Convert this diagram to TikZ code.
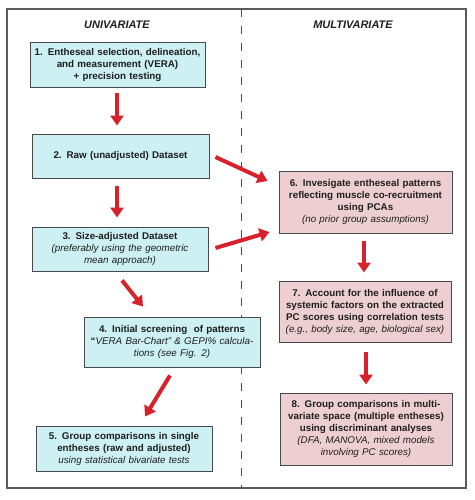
\documentclass[tikz,border=0pt]{standalone}
\usepackage{fontspec}
\setmainfont{Liberation Sans}
\usetikzlibrary{arrows.meta}
\definecolor{boxcyan}{HTML}{CCF0F3}
\definecolor{boxpink}{HTML}{EDCFD2}
\definecolor{arrred}{HTML}{D7222C}
\definecolor{edgegray}{HTML}{4A4A4A}
\definecolor{txt}{HTML}{1E1E1E}
\newcommand{\itl}{\mdseries\itshape}
\begin{document}
\begin{tikzpicture}[x=1pt,y=-1pt,
  box/.style={draw=edgegray, line width=0.9pt, align=center, inner sep=0pt,
    text=txt, font=\fontsize{9.8}{12}\selectfont\bfseries},
  cbox/.style={box, fill=boxcyan},
  pbox/.style={box, fill=boxpink},
  arr/.style={draw=arrred, line width=4pt, -{Triangle[width=13pt,length=10pt]}},
  head/.style={font=\fontsize{11}{13}\selectfont\bfseries\itshape, text=txt}]
\useasboundingbox (0,0) rectangle (474,500);
\draw[edgegray!90, line width=1.1pt] (7,9) rectangle (466,488);
\draw[edgegray, line width=1pt, dash pattern=on 8pt off 9pt] (241,9) -- (241,488);
\node[head] (hu) at (117,25) {UNIVARIATE};
\node[head] (hm) at (353,25) {MULTIVARIATE};
\node[cbox, minimum width=175, minimum height=45, text width=172] (b1) at (117.5,64.5)
  {1. Entheseal selection, delineation,\\ and measurement (VERA)\\ + precision testing};
\node[cbox, minimum width=177, minimum height=44, text width=174] (b2) at (120.5,156)
  {2. Raw (unadjusted) Dataset};
\node[cbox, minimum width=176, minimum height=44, text width=173] (b3) at (120,249)
  {3. Size-adjusted Dataset\\ \itl (preferably using the geometric\\ \itl mean approach)};
\node[cbox, minimum width=176, minimum height=50, text width=173] (b4) at (172,342)
  {4. Initial screening\ \ of patterns\\ ``{\itl VERA Bar-Chart'' \& GEPI\% calcula-}\\ \itl tions (see Fig. 2)};
\node[cbox, minimum width=176, minimum height=45, text width=173] (b5) at (124,448.5)
  {5. Group comparisons in single\\ entheses (raw and adjusted)\\ \itl using statistical bivariate tests};
\node[pbox, minimum width=173, minimum height=62, text width=170] (b6) at (365.5,202)
  {6. Invesigate entheseal patterns\\ reflecting muscle co-recruitment\\ using PCAs\\ \itl (no prior group assumptions)};
\node[pbox, minimum width=172, minimum height=61, text width=170] (b7) at (365,311.5)
  {7. Account for the influence of\\ systemic factors on the extracted\\ PC scores using correlation tests\\ \itl (e.g., body size, age, biological sex)};
\node[pbox, minimum width=172, minimum height=72, text width=170] (b8) at (366,429)
  {8. Group comparisons in multi-\\ variate space (multiple entheses)\\ using discriminant analyses\\ \itl (DFA, MANOVA, mixed models\\ \itl involving PC scores)};
\draw[arr] ([xshift=-0.5,yshift=-6]b1.south) -- ([xshift=-3.5,yshift=8]b2.north);
\draw[arr] ([xshift=-3.5,yshift=-8]b2.south) -- ([xshift=-3,yshift=9]b3.north);
\draw[arr] ([xshift=6,yshift=-1]b2.east) -- ([xshift=-11,yshift=21]b6.west);
\draw[arr] ([xshift=7,yshift=1]b3.east) -- ([xshift=-9,yshift=-30]b6.west);
\draw[arr] ([xshift=2,yshift=-9]b3.south) -- ([xshift=-29,yshift=10]b4.north);
\draw[arr] ([xshift=-2,yshift=-8]b4.south) -- ([xshift=21,yshift=9]b5.north);
\draw[arr] ([xshift=-1.5,yshift=-8]b6.south) -- ([xshift=-1,yshift=8]b7.north);
\draw[arr] ([xshift=1,yshift=-10]b7.south) -- ([xshift=0,yshift=8]b8.north);
\end{tikzpicture}
\end{document}
